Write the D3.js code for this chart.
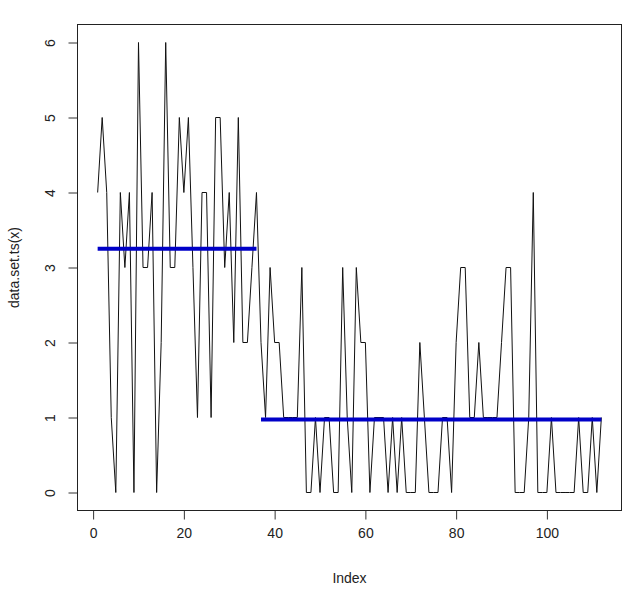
<!DOCTYPE html>
<html>
<head>
<meta charset="utf-8">
<script src="https://cdn.jsdelivr.net/npm/d3@7"></script>
<style>
  html, body { margin: 0; padding: 0; background: #fff; }
  text { font-family: "Liberation Sans", Arial, sans-serif; fill: #222; }
</style>
</head>
<body>
<svg id="root" width="639" height="608"></svg>
<script>
  // yearly counts, index 1..112
  let counts = [4, 5, 4, 1, 0, 4, 3, 4, 0, 6, 3, 3, 4, 0, 2, 6, 3, 3, 5, 4,
    5, 3, 1, 4, 4, 1, 5, 5, 3, 4, 2, 5, 2, 2, 3, 4, 2, 1, 3, 2,
    2, 1, 1, 1, 1, 3, 0, 0, 1, 0, 1, 1, 0, 0, 3, 1, 0, 3, 2, 2,
    0, 1, 1, 1, 0, 1, 0, 1, 0, 0, 0, 2, 1, 0, 0, 0, 1, 1, 0, 2,
    3, 3, 1, 1, 2, 1, 1, 1, 1, 2, 3, 3, 0, 0, 0, 1, 4, 0, 0, 0,
    1, 0, 0, 0, 0, 0, 1, 0, 0, 1, 0, 1];

  // segment means (start index, end index, mean)
  let segStart = [1, 37];
  let segEnd = [36, 112];
  let segMean = [3.25, 0.974];

  let xTicks = [0, 20, 40, 60, 80, 100];
  let yTicks = [0, 1, 2, 3, 4, 5, 6];

  (function () {
    let svg = d3.select("#root");

    let plotLeft = 77.5, plotRight = 621.5, plotTop = 24.5, plotBottom = 510.5;

    // R style 4% padding on the data range
    let xPad = (112 - 1) * 0.04;
    let yPad = (6 - 0) * 0.04;

    let x = d3.scaleLinear().domain([1 - xPad, 112 + xPad]).range([plotLeft, plotRight]);
    let y = d3.scaleLinear().domain([0 - yPad, 6 + yPad]).range([plotBottom, plotTop]);

    let data = counts.map((v, i) => ({ i: i + 1, v: v }));

    let line = d3.line()
      .x(d => x(d.i))
      .y(d => y(d.v));

    svg.append("path")
      .datum(data)
      .attr("d", line)
      .attr("fill", "none")
      .attr("stroke", "#111")
      .attr("stroke-width", 1);

    // mean segments
    svg.selectAll(".seg")
      .data(segMean)
      .enter().append("line")
      .attr("class", "seg")
      .attr("x1", (d, k) => x(segStart[k]))
      .attr("x2", (d, k) => x(segEnd[k]))
      .attr("y1", d => y(d))
      .attr("y2", d => y(d))
      .attr("stroke", "#0000c8")
      .attr("stroke-width", 4);

    // axes
    let xAxis = d3.axisBottom(x).tickValues(xTicks).tickFormat(d3.format("d")).tickSize(9).tickPadding(6);
    let gx = svg.append("g")
      .attr("transform", `translate(0,${plotBottom})`)
      .call(xAxis);
    gx.select(".domain").attr("d", `M${x(0)},0H${x(100)}`).attr("stroke", "#333");
    gx.selectAll(".tick line").attr("stroke", "#333");
    gx.selectAll(".tick text").style("font-size", "14px").attr("dy", "0.9em");

    let yAxis = d3.axisLeft(y).tickValues(yTicks).tickFormat(d3.format("d")).tickSize(9).tickPadding(0);
    let gy = svg.append("g")
      .attr("transform", `translate(${plotLeft},0)`)
      .call(yAxis);
    gy.select(".domain").attr("d", `M0,${y(0)}V${y(6)}`).attr("stroke", "#333");
    gy.selectAll(".tick line").attr("stroke", "#333");
    gy.selectAll(".tick text")
      .style("font-size", "14px")
      .attr("text-anchor", "middle")
      .attr("x", 0)
      .attr("dy", 0)
      .attr("transform", "translate(-28,0) rotate(-90) translate(0,5)");

    // box
    svg.append("rect")
      .attr("x", plotLeft)
      .attr("y", plotTop)
      .attr("width", plotRight - plotLeft)
      .attr("height", plotBottom - plotTop)
      .attr("fill", "none")
      .attr("stroke", "#222")
      .attr("stroke-width", 1);

    // titles
    svg.append("text")
      .attr("x", (plotLeft + plotRight) / 2)
      .attr("y", 583)
      .attr("text-anchor", "middle")
      .style("font-size", "14px")
      .text("Index");

    svg.append("text")
      .attr("transform", `translate(19,${(plotTop + plotBottom) / 2}) rotate(-90)`)
      .attr("text-anchor", "middle")
      .style("font-size", "14px")
      .text("data.set.ts(x)");
  })();
</script>
</body>
</html>
